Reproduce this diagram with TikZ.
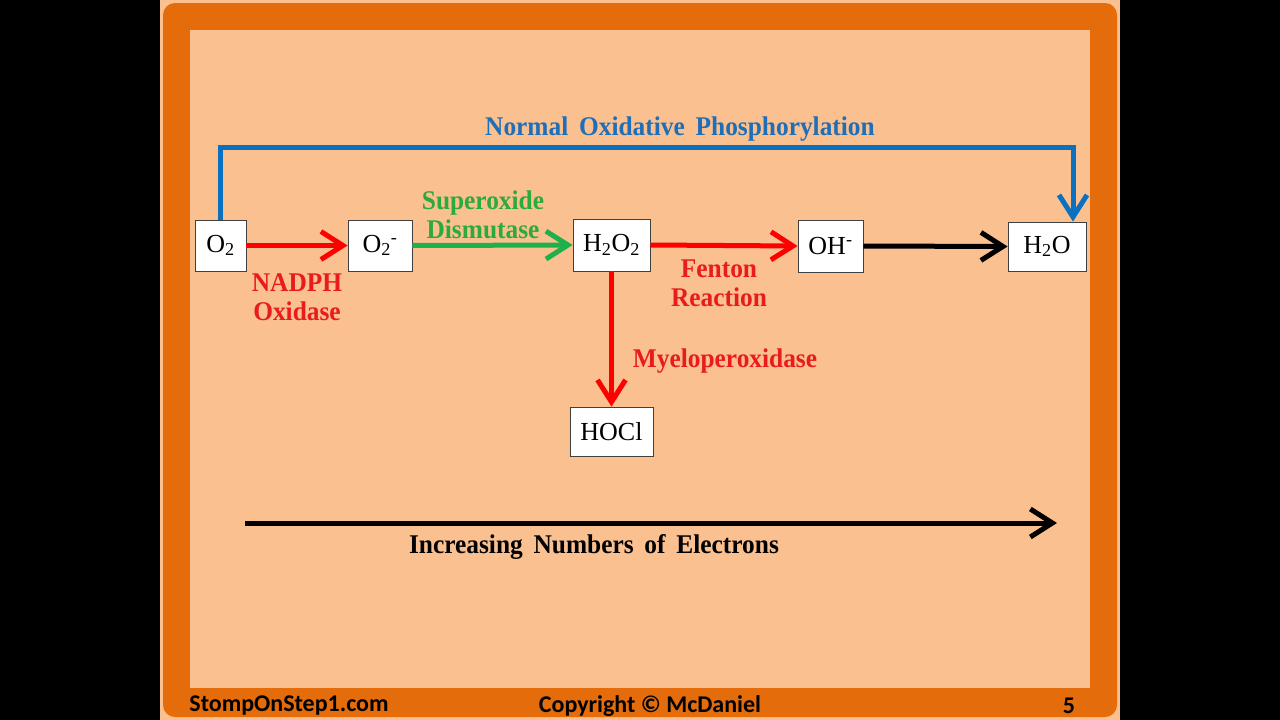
\documentclass[tikz,border=0pt]{standalone}
\usepackage{fontspec}
\setmainfont{Liberation Serif}
\newfontfamily\labfont[FakeStretch=0.94,WordSpace=1.7]{Liberation Serif}
\newfontfamily\footfont{Carlito}
\usetikzlibrary{arrows.meta}
\definecolor{frameorange}{HTML}{E46C0A}
\definecolor{peach}{HTML}{FAC090}
\definecolor{myred}{HTML}{FF0000}
\definecolor{labred}{HTML}{E81C1C}
\definecolor{mygreen}{HTML}{1DB04B}
\definecolor{labgreen}{HTML}{2DAA3C}
\definecolor{myblue}{HTML}{0B70C0}
\definecolor{labblue}{HTML}{1F6FB8}
\begin{document}
\begin{tikzpicture}[x=1pt,y=-1pt,
  chem/.style={draw=black!75,line width=0.8pt,fill=white,inner sep=0pt,font=\fontsize{26}{28}\selectfont},
  lab/.style={font=\labfont\fontsize{27}{29}\selectfont\bfseries,align=center},
  arr/.style={line width=5pt,-{Straight Barb[length=22pt,width=28pt]}},
  foot/.style={font=\footfont\fontsize{24}{26}\selectfont\bfseries,text=black}]
\useasboundingbox (0,0) rectangle (1280,720);
\fill[black] (0,0) rectangle (1280,720);
\fill[peach] (160,0) rectangle (1120,720);
\fill[frameorange,rounded corners=12pt] (163,3) rectangle (1117,717);
\fill[peach] (190,30) rectangle (1090,688);

% boxes
\node[chem,minimum width=51pt,minimum height=51pt] (o2) at (220.5,245.5) {O\textsubscript{2}};
\node[chem,minimum width=64pt,minimum height=51pt] (o2m) at (380,245.5) {O\textsubscript{2}\textsuperscript{-}};
\node[chem,minimum width=77pt,minimum height=52pt] (h2o2) at (611.5,245) {H\textsubscript{2}O\textsubscript{2}};
\node[chem,minimum width=65pt,minimum height=52pt] (oh) at (830.5,246) {OH\textsuperscript{-}};
\node[chem,minimum width=78pt,minimum height=49pt] (h2o) at (1047,246.5) {H\textsubscript{2}O};
\node[chem,minimum width=83pt,minimum height=49pt] (hocl) at (611.5,431.5) {HOCl};

% arrows
\draw[arr,myred] (o2.east) -- (o2m.west);
\draw[arr,mygreen] (o2m.east) -- (h2o2.west);
\draw[arr,myred] (h2o2.east) -- (oh.west);
\draw[arr,black] (oh.east) -- (h2o.west);
\draw[arr,myred] (h2o2.south) -- (hocl.north);
\coordinate (turn) at (1073,147);
\draw[arr,myblue] (o2.north) |- (turn) -- (turn |- h2o.north);
\coordinate (e1) at (245,523);
\coordinate (e2) at (1057,523);
\draw[arr,black] (e1) -- (e2);

% labels
\node[lab,text=labred] (nadph) at (297,297) {NADPH\\Oxidase};
\node[lab,text=labgreen] (sod) at (483,215) {Superoxide\\Dismutase};
\node[lab,text=labred] (fenton) at (719,283) {Fenton\\Reaction};
\node[lab,text=labred] (mpo) at (725,361) {Myeloperoxidase};
\node[lab,text=labblue] (nox) at (680,129) {Normal Oxidative Phosphorylation};
\node[lab,text=black] (inc) at (594,547) {Increasing Numbers of Electrons};

% footer
\node[foot] (f1) at (289,706) {StompOnStep1.com};
\node[foot] (f2) at (650,706) {Copyright © McDaniel};
\node[foot] (f3) at (1069,706) {5};
\end{tikzpicture}
\end{document}
